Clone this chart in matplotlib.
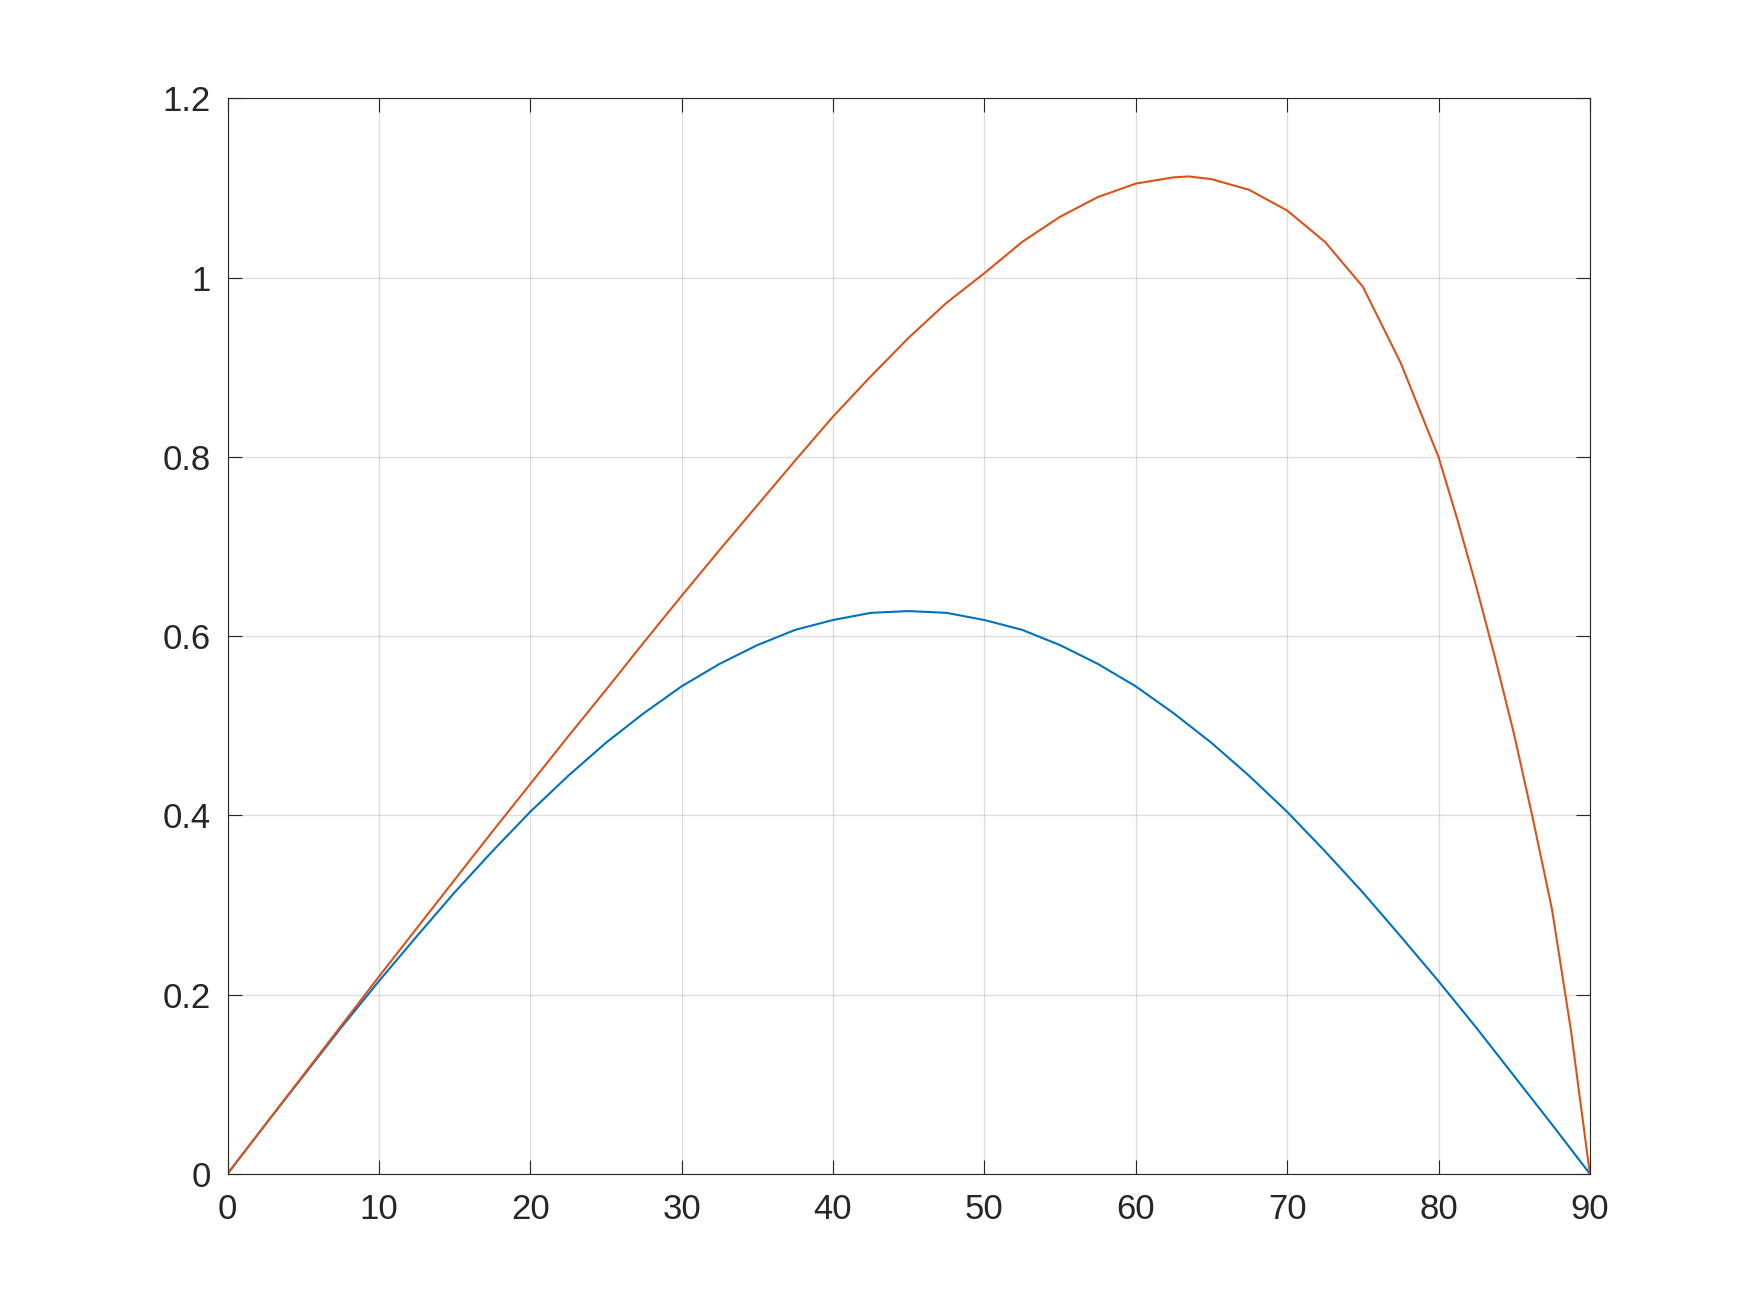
import matplotlib.pyplot as plt

plt.rcParams['font.family'] = ['Liberation Sans', 'DejaVu Sans']

# angle in degrees
theta = [0, 2.5, 5, 7.5, 10, 12.5, 15, 17.5, 20, 22.5, 25, 27.5, 30, 32.5, 35, 37.5, 40, 42.5, 45,
         47.5, 50, 52.5, 55, 57.5, 60, 62.5, 65, 67.5, 70, 72.5, 75, 77.5, 80, 82.5, 85, 87.5, 90]
blue = [0, .055, .109, .163, .215, .265, .314, .360, .404, .444, .481, .514, .544, .569, .590, .607, .618, .626, .628,
        .626, .618, .607, .590, .569, .544, .514, .481, .444, .404, .360, .314, .265, .215, .163, .109, .055, 0]
theta_r = [0, 2.5, 5, 7.5, 10, 12.5, 15, 17.5, 20, 22.5, 25, 27.5, 30, 32.5, 35, 37.5, 40, 42.5, 45,
           47.5, 50, 52.5, 55, 57.5, 60, 62.5, 63.5, 65, 67.5, 70, 72.5, 75, 77.5, 80,
           81.25, 82.5, 83.75, 85, 86.25, 87.5, 88.75, 90]
red = [0, .055, .11, .165, .22, .274, .328, .382, .435, .488, .54, .593, .645, .696, .746, .796, .845, .89, .933,
       .972, 1.005, 1.04, 1.068, 1.09, 1.105, 1.112, 1.113, 1.11, 1.098, 1.075, 1.04, 0.99, 0.905, 0.80,
       0.73, 0.655, 0.575, 0.49, 0.395, 0.295, 0.16, 0]

xticks = list(range(0, 91, 10))
yticks = [0, 0.2, 0.4, 0.6, 0.8, 1, 1.2]
yticklabels = ["0", "0.2", "0.4", "0.6", "0.8", "1", "1.2"]

fig = plt.figure(figsize=(17.5, 13.13), dpi=100)
ax = fig.add_axes([0.13, 0.106, 0.7785, 0.819])
ax.plot(theta, blue, color="#0072BD", lw=1.5)
ax.plot(theta_r, red, color="#D95319", lw=1.5)
ax.set_xlim(0, 90)
ax.set_ylim(0, 1.2)
ax.set_xticks(xticks)
ax.set_yticks(yticks)
ax.set_yticklabels(yticklabels)
ax.grid(True, color="#262626", alpha=0.15, lw=1)
ax.tick_params(direction="in", top=True, right=True, length=10, labelsize=25,
               colors="#262626")
ax.tick_params(axis="x", pad=14)
ax.tick_params(axis="y", pad=12)
for s in ax.spines.values():
    s.set_color("#262626")
fig.savefig("out.png")
